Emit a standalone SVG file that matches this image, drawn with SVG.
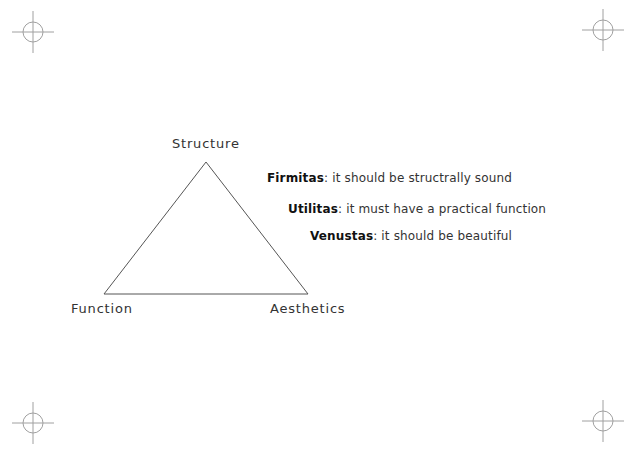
<svg xmlns="http://www.w3.org/2000/svg" width="640" height="456" viewBox="0 0 640 456">
<defs>
<style>
.mark{fill:none;stroke:#a0a0a0;stroke-width:1}
.lbl{font-family:"DejaVu Sans",Verdana,sans-serif;font-size:12px;fill:#333;letter-spacing:0.15px}
.node{font-family:"DejaVu Sans",Verdana,sans-serif;font-size:13px;fill:#333;letter-spacing:0.8px}
.b{font-weight:bold;fill:#111}
.edge{fill:none;stroke:#555;stroke-width:1}
</style>
<g id="cropmark">
<circle cx="0" cy="0" r="10" class="mark"/>
<line x1="-21" y1="0" x2="21" y2="0" class="mark"/>
<line x1="0" y1="-21" x2="0" y2="21" class="mark"/>
</g>
</defs>
<rect width="640" height="456" fill="#fff"/>
<use href="#cropmark" x="33" y="32"/>
<use href="#cropmark" x="603" y="30"/>
<use href="#cropmark" x="33" y="423"/>
<use href="#cropmark" x="603" y="421"/>
<g id="connectors">
<polygon points="206,162 104,294 308,294" class="edge"/>
</g>
<g id="structure"><text x="172" y="148" class="node">Structure</text></g>
<g id="function"><text x="71" y="313" class="node">Function</text></g>
<g id="aesthetics"><text x="270" y="313" class="node">Aesthetics</text></g>
<g id="firmitas"><text x="267" y="182" class="lbl"><tspan class="b">Firmitas</tspan>: it should be structrally sound</text></g>
<g id="utilitas"><text x="288" y="213" class="lbl"><tspan class="b">Utilitas</tspan>: it must have a practical function</text></g>
<g id="venustas"><text x="310" y="240" class="lbl"><tspan class="b">Venustas</tspan>: it should be beautiful</text></g>
</svg>
